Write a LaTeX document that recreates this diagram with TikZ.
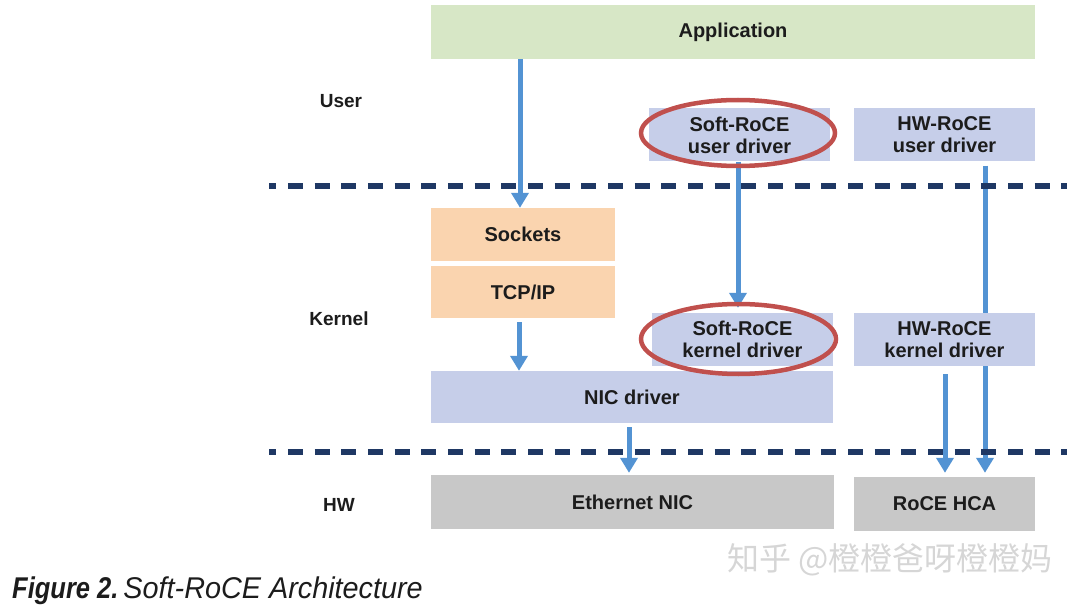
\documentclass[tikz,border=0pt]{standalone}
\usepackage{fontspec}
\setmainfont{Liberation Sans}
\newfontfamily\cjk{Noto Sans CJK SC}
\usetikzlibrary{arrows.meta,backgrounds,shapes.geometric}
\definecolor{appgreen}{HTML}{D7E7C6}
\definecolor{lav}{HTML}{C6CEE9}
\definecolor{orng}{HTML}{FAD4AF}
\definecolor{hwgray}{HTML}{C8C8C8}
\definecolor{arrblue}{HTML}{5393D3}
\definecolor{navy}{HTML}{1F3864}
\definecolor{ringred}{HTML}{C0504D}
\definecolor{txt}{HTML}{1C1C1C}
\definecolor{wm}{HTML}{D6D6D6}
\tikzset{
  box/.style={inner sep=0pt, align=center, text=txt,
    font=\fontsize{20}{22}\selectfont\bfseries},
  lav181/.style={box, fill=lav, minimum width=181pt, minimum height=53pt},
  lbl/.style={inner sep=0pt, text=txt, font=\fontsize{19}{22}\selectfont\bfseries},
  arr/.style={draw=arrblue, line width=5pt, -{Triangle[width=17pt,length=15pt]}},
  sepline/.style={draw=navy, line width=5.5pt, dash pattern=on 15pt off 11.67pt, dash phase=7.7pt},
  ring/.style={ellipse, draw=ringred, line width=4.5pt, inner sep=0pt}
}
\begin{document}
\begin{tikzpicture}[x=1pt,y=-1pt]
\useasboundingbox (0,0) rectangle (1080,607);
% boxes
\node[box, fill=appgreen, minimum width=604pt, minimum height=54pt] (app) at (733,32) {Application};
\node[lav181] (suser) at (739.5,135) {Soft-RoCE\\user driver};
\node[lav181] (huser) at (944.5,135) {HW-RoCE\\user driver};
\node[box, fill=orng, minimum width=184pt, minimum height=53pt] (sock) at (523,234.5) {Sockets};
\node[box, fill=orng, minimum width=184pt, minimum height=52pt] (tcp) at (523,292) {TCP/IP};
\node[lav181] (skern) at (742.5,339.5) {Soft-RoCE\\kernel driver};
\node[lav181] (hkern) at (944.5,339.5) {HW-RoCE\\kernel driver};
\node[box, fill=lav, minimum width=402pt, minimum height=52pt] (nic) at (632,397) {NIC driver};
\node[box, fill=hwgray, minimum width=403pt, minimum height=54pt] (eth) at (632.5,502) {Ethernet NIC};
\node[box, fill=hwgray, minimum width=181pt, minimum height=54pt] (hca) at (944.5,504) {RoCE HCA};
% layer labels
\node[lbl] (luser) at (341,101) {User};
\node[lbl] (lkern) at (339,319) {Kernel};
\node[lbl] (lhw) at (339,505) {HW};
% separators
\coordinate (d1a) at (269,186); \coordinate (d1b) at (1067,186);
\coordinate (d2a) at (269,452); \coordinate (d2b) at (1067,452);
\draw[sepline] (d1a) -- (d1b);
\draw[sepline] (d2a) -- (d2b);
% arrows
\coordinate (xa) at (520,0);
\coordinate (xb) at (738,0);
\coordinate (xc) at (985,0);
\coordinate (xd) at (945,0);
\coordinate (xf) at (519,0);
\coordinate (xe) at (629,0);
\begin{scope}[on background layer]
\draw[arr] (app.south -| xa) -- (sock.north -| xa);
\draw[arr, shorten >=5pt] (suser.south -| xb) -- (skern.north -| xb);
\draw[arr, shorten <=4pt, shorten >=4pt] (huser.south -| xc) -- (hca.north -| xc);
\draw[arr, shorten <=8pt, shorten >=4pt] (hkern.south -| xd) -- (hca.north -| xd);
\draw[arr, shorten <=4pt] (tcp.south -| xf) -- (nic.north -| xf);
\draw[arr, shorten <=4pt, shorten >=2pt] (nic.south -| xe) -- (eth.north -| xe);
\end{scope}
% red rings
\node[ring, minimum width=194pt, minimum height=66pt] (r1) at (738,133) {};
\node[ring, minimum width=195pt, minimum height=70pt] (r2) at (738.5,339) {};
% caption
\node[anchor=base west, inner sep=0pt, text=txt, font=\fontsize{30}{32}\selectfont] (cap) at (12,598)
  {\scalebox{0.85}[1]{\bfseries\itshape Figure 2.}\,\scalebox{0.96}[1]{\itshape Soft-RoCE Architecture}};
% watermark
\node[inner sep=0pt, text=wm, font=\cjk\fontsize{32}{34}\selectfont] (wmk) at (890,560) {知乎 @橙橙爸呀橙橙妈};
\end{tikzpicture}
\end{document}
